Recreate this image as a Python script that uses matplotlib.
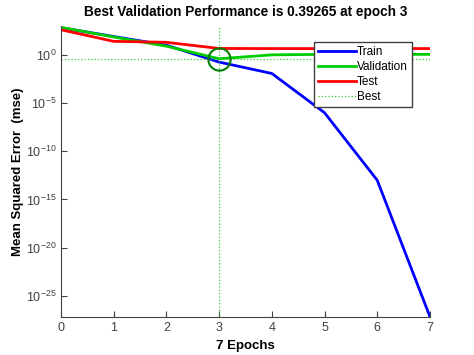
import matplotlib
matplotlib.use('Agg')
import matplotlib.pyplot as plt
import numpy as np

# log10 of mse
epochs = [0, 1, 2, 3, 4, 5, 6, 7]
train_log = [2.82, 1.9, 1.0, -0.75, -1.93, -6.0, -13.0, -27.15]
val_log = [2.85, 1.85, 0.9, -0.406, 0.0, 0.05, 0.05, 0.05]
test_log = [2.6, 1.4, 1.3, 0.66, 0.65, 0.65, 0.65, 0.65]
best_epoch = 3
best_perf = 0.39265

train = 10 ** np.array(train_log)
val = 10 ** np.array(val_log)
test = 10 ** np.array(test_log)

plt.rcParams['font.family'] = ['Liberation Sans', 'DejaVu Sans']
fig = plt.figure(figsize=(4.74, 3.55), dpi=100)
ax = fig.add_axes([0.1287, 0.108, 0.7783, 0.819])

ax.semilogy(epochs, train, color='#0000ff', lw=2, label='Train')
ax.semilogy(epochs, val, color='#00cc00', lw=2, label='Validation')
ax.semilogy(epochs, test, color='#ff0000', lw=2, label='Test')
ax.axhline(best_perf, color='#33cc33', lw=0.9, ls=':', label='Best')
ax.axvline(best_epoch, color='#33cc33', lw=0.9, ls=':')
ax.plot([best_epoch], [best_perf], 'o', ms=16, mfc='none', mec='#008000', mew=1.5)

ax.set_xlim(0, 7)
ax.set_ylim(10 ** -27.15, 10 ** 3.0)
ax.set_xticks(epochs)
ax.set_yticks([1e0, 1e-5, 1e-10, 1e-15, 1e-20, 1e-25])
ax.yaxis.set_minor_locator(matplotlib.ticker.NullLocator())
ax.tick_params(direction='in', colors='#404040', labelsize=9, length=4)
ax.spines['top'].set_visible(False)
ax.spines['right'].set_visible(False)
for s in ['left', 'bottom']:
    ax.spines[s].set_color('#404040')

ax.set_title('Best Validation Performance is 0.39265 at epoch 3', fontsize=9.8, fontweight='bold', pad=7)
ax.set_xlabel('7 Epochs', fontsize=9.5, fontweight='bold', labelpad=5)
ax.set_ylabel('Mean Squared Error  (mse)', fontsize=9.5, fontweight='bold', labelpad=1)

leg = ax.legend(loc='upper right', bbox_to_anchor=(0.882, 0.899), bbox_transform=fig.transFigure,
                fontsize=8.5, handlelength=3.2, handletextpad=0.1, borderpad=0.35,
                labelspacing=0.25, fancybox=False, framealpha=1)
leg.get_frame().set_edgecolor('#404040')

fig.savefig('out.png', dpi=100)
